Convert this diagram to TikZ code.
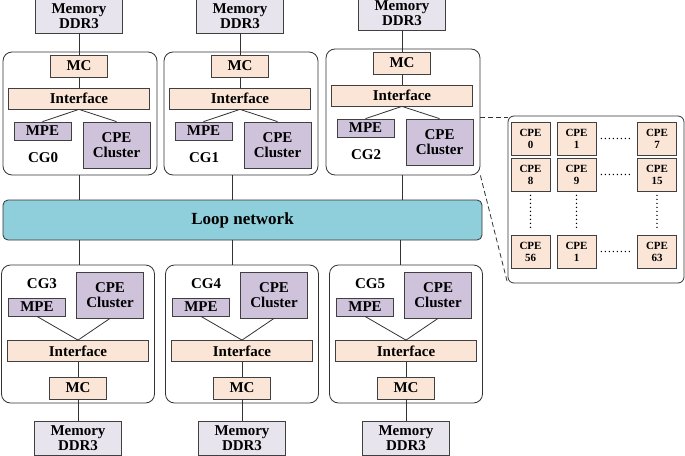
\documentclass[tikz,border=0pt]{standalone}
\usepackage{fontspec}
\setmainfont{Liberation Serif}
\usetikzlibrary{positioning}
\definecolor{memfill}{HTML}{E8E4EE}
\definecolor{mcfill}{HTML}{FBE5D6}
\definecolor{pefill}{HTML}{CFC3DC}
\definecolor{netfill}{HTML}{8FCFDC}
\begin{document}
\begin{tikzpicture}[x=1pt,y=-1pt]
    % Setup the styles for the blocks
    \tikzset{blk/.style={draw=black!75, line width=0.8pt, inner sep=0pt,
                         align=center, font=\fontsize{15}{15}\selectfont\bfseries},
             mem style/.style={blk, fill=memfill, minimum width=87pt, minimum height=34pt},
             mc style/.style={blk, fill=mcfill, minimum width=57pt, minimum height=22pt},
             if style/.style={blk, fill=mcfill, minimum width=141pt, minimum height=21pt},
             mpe style/.style={blk, fill=pefill, minimum width=57pt, minimum height=18pt},
             cpe style/.style={blk, fill=pefill, minimum width=67pt, minimum height=46pt},
             cg style/.style={draw=black!80, line width=0.8pt, rounded corners=9pt, inner sep=0pt},
             cell style/.style={blk, fill=mcfill, minimum width=39pt, minimum height=33pt,
                                font=\fontsize{11}{12}\selectfont\bfseries},
             wire/.style={draw=black!80, line width=0.8pt},
             dots/.style={line width=1.6pt, dash pattern=on 0pt off 4pt, line cap=round}}
    \useasboundingbox (0,0) rectangle (685,455);
    % Loop network
    \node[cg style, fill=netfill, minimum width=479pt, minimum height=40pt,
          rounded corners=5pt, font=\fontsize{17}{17}\selectfont\bfseries]
          (net) at (242.5,220) {Loop network};
    % Upper core groups
    \foreach \n/\cx/\dy/\lx in {0/79/0/79, 1/240/0/232, 2/402/-3/402} {
        \node[cg style, minimum width=154pt, minimum height=123pt-\dy]
              (cg\n) at (\cx+1,113.5+\dy/2) {};
        \node[mem style] (mem\n) at (\cx,16+\dy) {Memory\\DDR3};
        \node[mc style]  (mc\n)  at (\cx,66+\dy) {MC};
        \node[if style]  (if\n)  at (\cx,98.5+\dy) {Interface};
        \node[mpe style] (mpe\n) at (\cx-36.5,131+\dy) {MPE};
        \node[cpe style] (cpe\n) at (\cx+37.5,145+\dy) {CPE\\Cluster};
        \node[font=\fontsize{15}{15}\selectfont\bfseries] (lab\n) at (\cx-36,158+\dy) {CG\n};
        \draw[wire] (mem\n) -- (mc\n);
        \draw[wire] (mc\n) -- (if\n);
        \draw[wire] (if\n.south) -- (mpe\n.north);
        \draw[wire] (if\n.south) -- (cpe\n.north);
        \draw[wire] (cg\n.south -| \lx,0) -- (net.north -| \lx,0);
    }
    % Lower core groups
    \foreach \n/\cx/\lx in {3/78/79, 4/242/232, 5/406/400} {
        \node[cg style, minimum width=153pt, minimum height=138pt] (cg\n) at (\cx,334) {};
        \node[font=\fontsize{15}{15}\selectfont\bfseries] (lab\n) at (\cx-36,284) {CG\n};
        \node[mpe style] (mpe\n) at (\cx-41,307) {MPE};
        \node[cpe style] (cpe\n) at (\cx+32,295) {CPE\\Cluster};
        \node[if style]  (if\n)  at (\cx,351) {Interface};
        \node[mc style]  (mc\n)  at (\cx,388) {MC};
        \node[mem style] (mem\n) at (\cx,438) {Memory\\DDR3};
        \draw[wire] (mpe\n.south) -- (if\n.north);
        \draw[wire] (cpe\n.south) -- (if\n.north);
        \draw[wire] (if\n) -- (mc\n);
        \draw[wire] (mc\n) -- (mem\n);
        \draw[wire] (net.south -| \lx,0) -- (cg\n.north -| \lx,0);
    }
    % CPE cluster detail
    \node[cg style, minimum width=176pt, minimum height=167pt, rounded corners=6pt]
          (detail) at (596,199.5) {};
    \node[cell style] (c0)  at (530.5,138.5) {CPE\\0};
    \node[cell style] (c1)  at (576.5,138.5) {CPE\\1};
    \node[cell style] (c7)  at (657,138.5)   {CPE\\7};
    \node[cell style] (c8)  at (530.5,174.5) {CPE\\8};
    \node[cell style] (c9)  at (576.5,174.5) {CPE\\9};
    \node[cell style] (c15) at (657,174.5)   {CPE\\15};
    \node[cell style] (c56) at (530.5,251.5) {CPE\\56};
    \node[cell style] (c57) at (576.5,251.5) {CPE\\1};
    \node[cell style] (c63) at (657,251.5)   {CPE\\63};
    \foreach \a/\b in {c1/c7, c9/c15, c57/c63}
        \draw[dots, shorten <=5pt, shorten >=5pt] (\a) -- (\b);
    \foreach \a/\b in {c8/c56, c9/c57, c15/c63}
        \draw[dots, shorten <=4pt, shorten >=4pt] (\a) -- (\b);
    % Zoom lines
    \coordinate (zt) at (cg2.north east |- 0,117);
    \coordinate (zb) at (cg2.south east);
    \draw[wire, dashed, dash pattern=on 5pt off 3pt] (zt) -- (detail.north west |- zt);
    \draw[wire, dashed, dash pattern=on 5pt off 3pt] (zb) -- (detail.south west);
\end{tikzpicture}
\end{document}
